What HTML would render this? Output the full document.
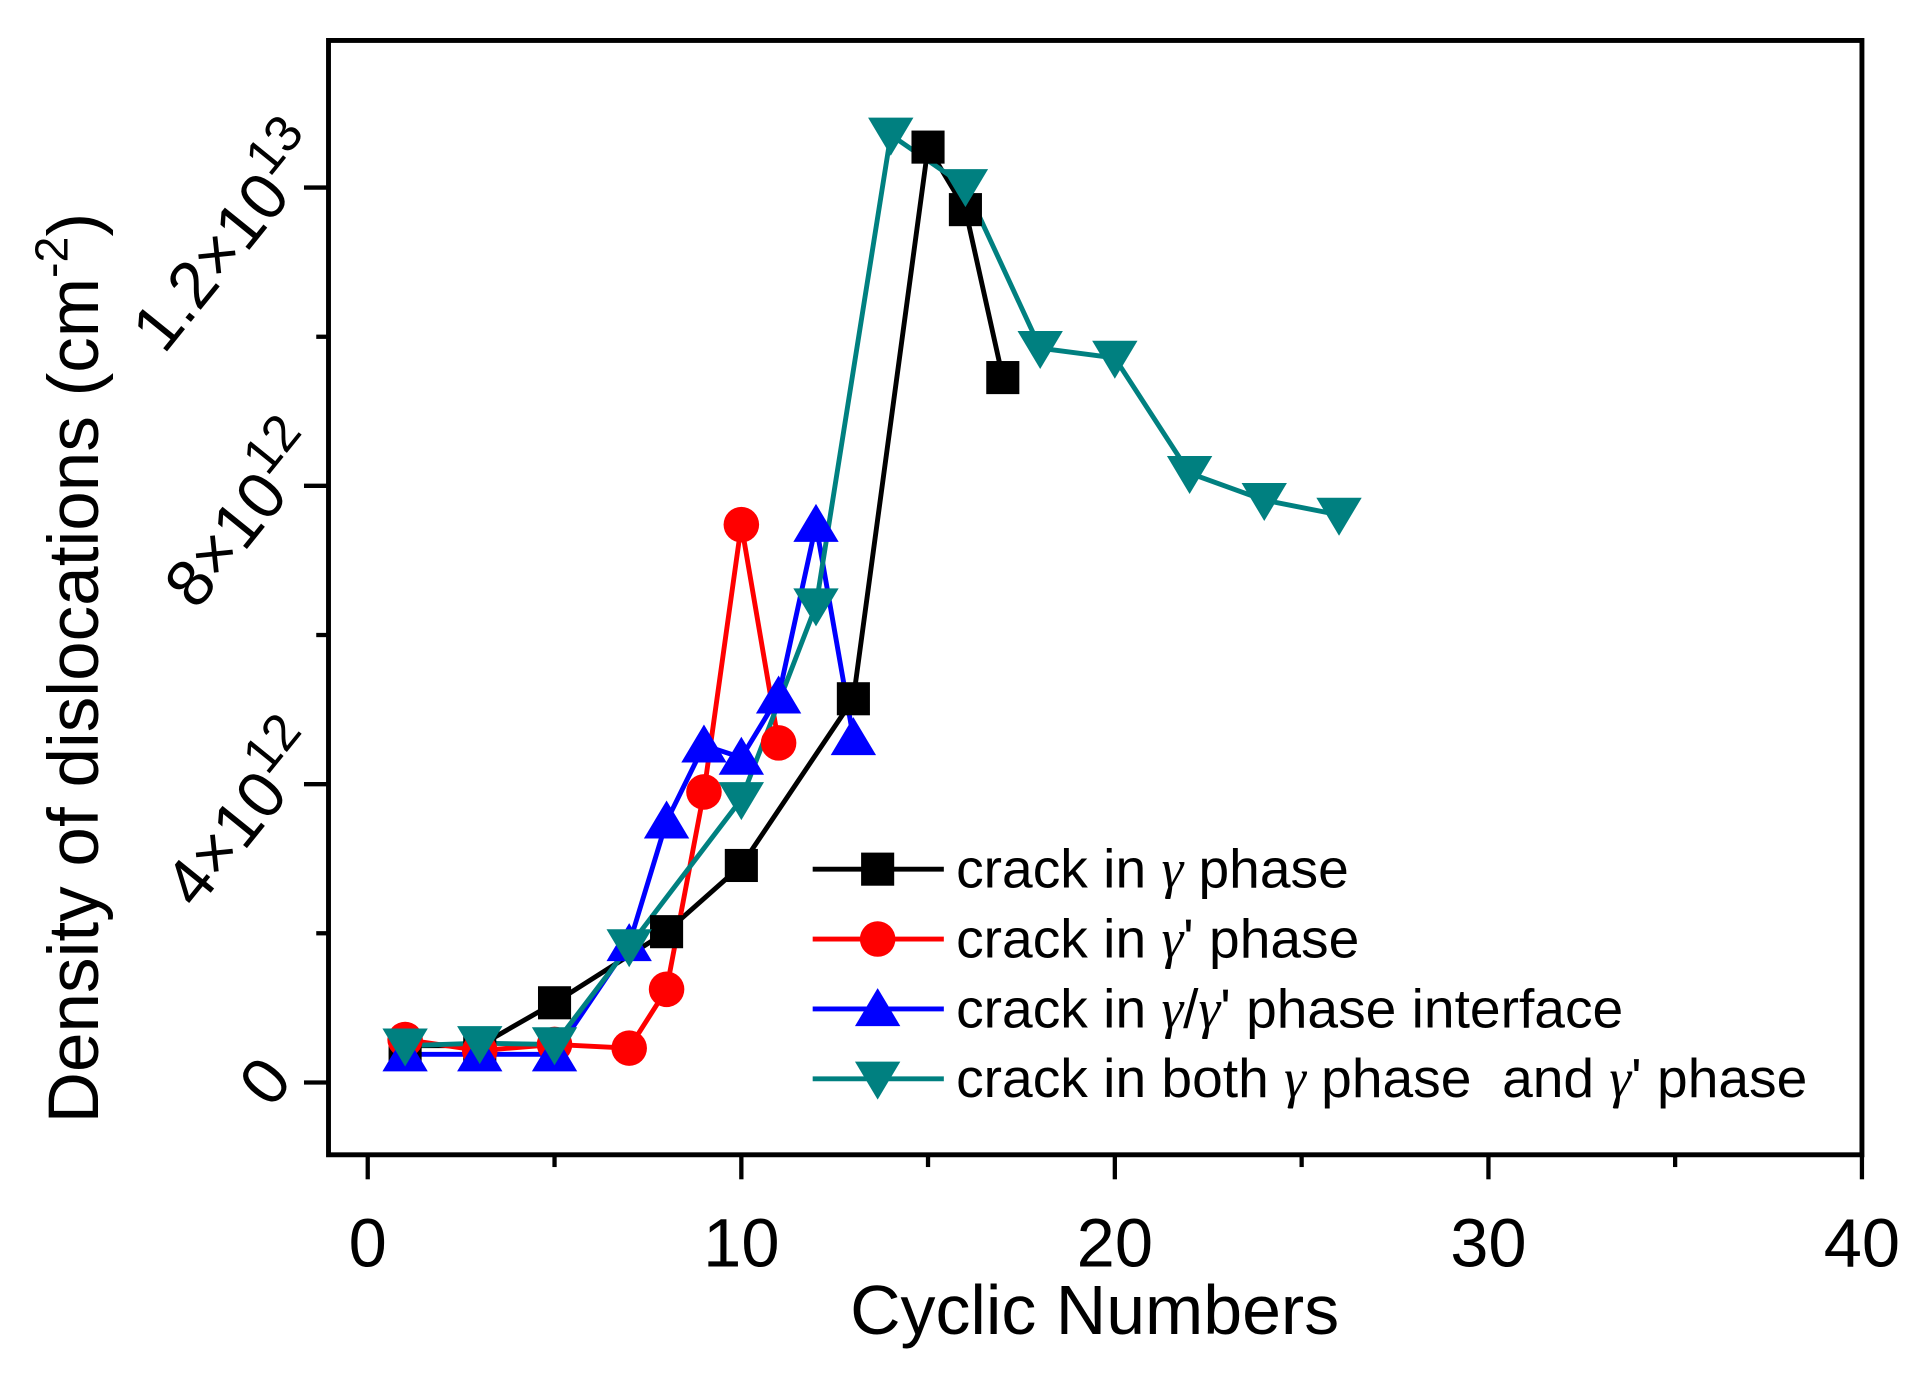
<!DOCTYPE html>
<html><head><meta charset="utf-8"><style>html,body{margin:0;padding:0;background:#fff}svg{display:block}</style></head>
<body>
<svg width="1922" height="1373" viewBox="0 0 1568 1120" preserveAspectRatio="none" xmlns="http://www.w3.org/2000/svg" font-family="Liberation Sans, Arial, sans-serif">
<defs>
<rect id="sq" x="-13.5" y="-13.5" width="27" height="27" fill="#000"/>
<circle id="ci" r="14.5" fill="#f00"/>
<polygon id="tu" points="0,-17 18.5,14 -18.5,14" fill="#00f"/>
<polygon id="td" points="-18.5,-14 18.5,-14 0,17" fill="#008080"/>
</defs>
<rect x="268" y="33" width="1251" height="909" fill="none" stroke="#000" stroke-width="4"/>
<g stroke="#000" stroke-width="3.5">
<line x1="300" y1="942" x2="300" y2="962"/><line x1="604.8" y1="942" x2="604.8" y2="962"/><line x1="909.5" y1="942" x2="909.5" y2="962"/><line x1="1214.3" y1="942" x2="1214.3" y2="962"/><line x1="1519" y1="942" x2="1519" y2="962"/>
<line x1="452.4" y1="942" x2="452.4" y2="952"/><line x1="757.1" y1="942" x2="757.1" y2="952"/><line x1="1061.9" y1="942" x2="1061.9" y2="952"/><line x1="1366.6" y1="942" x2="1366.6" y2="952"/>
<line x1="248" y1="883" x2="268" y2="883"/><line x1="248" y1="639.7" x2="268" y2="639.7"/><line x1="248" y1="396.3" x2="268" y2="396.3"/><line x1="248" y1="153" x2="268" y2="153"/>
<line x1="258" y1="761.3" x2="268" y2="761.3"/><line x1="258" y1="518" x2="268" y2="518"/><line x1="258" y1="274.7" x2="268" y2="274.7"/>
</g>
<g font-size="56" text-anchor="middle" fill="#000">
<text x="300" y="1033">0</text><text x="604.8" y="1033">10</text><text x="909.5" y="1033">20</text><text x="1214.3" y="1033">30</text><text x="1519" y="1033">40</text>
</g>
<text x="893" y="1088" font-size="57" text-anchor="middle">Cyclic Numbers</text>
<text transform="translate(80,545) rotate(-90)" font-size="58" text-anchor="middle">Density of dislocations (cm<tspan font-size="38" dy="-25">-2</tspan><tspan dy="25">)</tspan></text>
<g font-size="54" text-anchor="end">
<text transform="translate(240,882) rotate(-51)">0</text>
<text transform="translate(266,612) rotate(-51)">4×10<tspan font-size="42" dy="-24">12</tspan></text>
<text transform="translate(266,368) rotate(-51)">8×10<tspan font-size="42" dy="-24">12</tspan></text>
<text transform="translate(268,124) rotate(-51)">1.2×10<tspan font-size="42" dy="-24">13</tspan></text>
</g>
<g fill="none" stroke-width="4" stroke-linejoin="round">
<polyline stroke="#000" points="330.5,853 391.4,853 452.4,818 543.8,760 604.8,706 696.2,570 757.1,120 787.6,171 818.1,308"/>
<polyline stroke="#f00" points="330.5,848 391.4,857 452.4,852 513.3,855 543.8,807 574.3,646 604.8,428 635.2,606"/>
<polyline stroke="#00f" points="330.5,860 391.4,860 452.4,860 513.3,770 543.8,670 574.3,608 604.8,618 635.2,568 665.7,428 696.2,602"/>
<polyline stroke="#008080" points="330.5,853 391.4,851 452.4,852 513.3,772 604.8,652 665.7,494 726.7,110 787.6,152 848.6,284 909.5,292 970.5,386 1031.4,408 1092.4,420"/>
</g>
<g>
<use href="#sq" x="330.5" y="853"/><use href="#sq" x="391.4" y="853"/><use href="#sq" x="452.4" y="818"/><use href="#sq" x="543.8" y="760"/><use href="#sq" x="604.8" y="706"/><use href="#sq" x="696.2" y="570"/><use href="#sq" x="757.1" y="120"/><use href="#sq" x="787.6" y="171"/><use href="#sq" x="818.1" y="308"/>
<use href="#ci" x="330.5" y="848"/><use href="#ci" x="391.4" y="857"/><use href="#ci" x="452.4" y="852"/><use href="#ci" x="513.3" y="855"/><use href="#ci" x="543.8" y="807"/><use href="#ci" x="574.3" y="646"/><use href="#ci" x="604.8" y="428"/><use href="#ci" x="635.2" y="606"/>
<use href="#tu" x="330.5" y="860"/><use href="#tu" x="391.4" y="860"/><use href="#tu" x="452.4" y="860"/><use href="#tu" x="513.3" y="770"/><use href="#tu" x="543.8" y="670"/><use href="#tu" x="574.3" y="608"/><use href="#tu" x="604.8" y="618"/><use href="#tu" x="635.2" y="568"/><use href="#tu" x="665.7" y="428"/><use href="#tu" x="696.2" y="602"/>
<use href="#td" x="330.5" y="853"/><use href="#td" x="391.4" y="851"/><use href="#td" x="452.4" y="852"/><use href="#td" x="513.3" y="772"/><use href="#td" x="604.8" y="652"/><use href="#td" x="665.7" y="494"/><use href="#td" x="726.7" y="110"/><use href="#td" x="787.6" y="152"/><use href="#td" x="848.6" y="284"/><use href="#td" x="909.5" y="292"/><use href="#td" x="970.5" y="386"/><use href="#td" x="1031.4" y="408"/><use href="#td" x="1092.4" y="420"/>
</g>
<g stroke-width="4">
<line x1="663" y1="709" x2="770" y2="709" stroke="#000"/><use href="#sq" x="716" y="709"/>
<line x1="663" y1="766" x2="770" y2="766" stroke="#f00"/><use href="#ci" x="716" y="766"/>
<line x1="663" y1="823" x2="770" y2="823" stroke="#00f"/><use href="#tu" x="716" y="823"/>
<line x1="663" y1="880" x2="770" y2="880" stroke="#008080"/><use href="#td" x="716" y="880"/>
</g>
<g font-size="45" fill="#000">
<text x="780" y="724">crack in <tspan font-family="Liberation Serif, serif" font-style="italic">γ</tspan> phase</text>
<text x="780" y="781">crack in <tspan font-family="Liberation Serif, serif" font-style="italic">γ</tspan>' phase</text>
<text x="780" y="838">crack in <tspan font-family="Liberation Serif, serif" font-style="italic">γ</tspan>/<tspan font-family="Liberation Serif, serif" font-style="italic">γ</tspan>' phase interface</text>
<text x="780" y="895">crack in both <tspan font-family="Liberation Serif, serif" font-style="italic">γ</tspan> phase&#160; and <tspan font-family="Liberation Serif, serif" font-style="italic">γ</tspan>' phase</text>
</g>
</svg>
</body></html>
